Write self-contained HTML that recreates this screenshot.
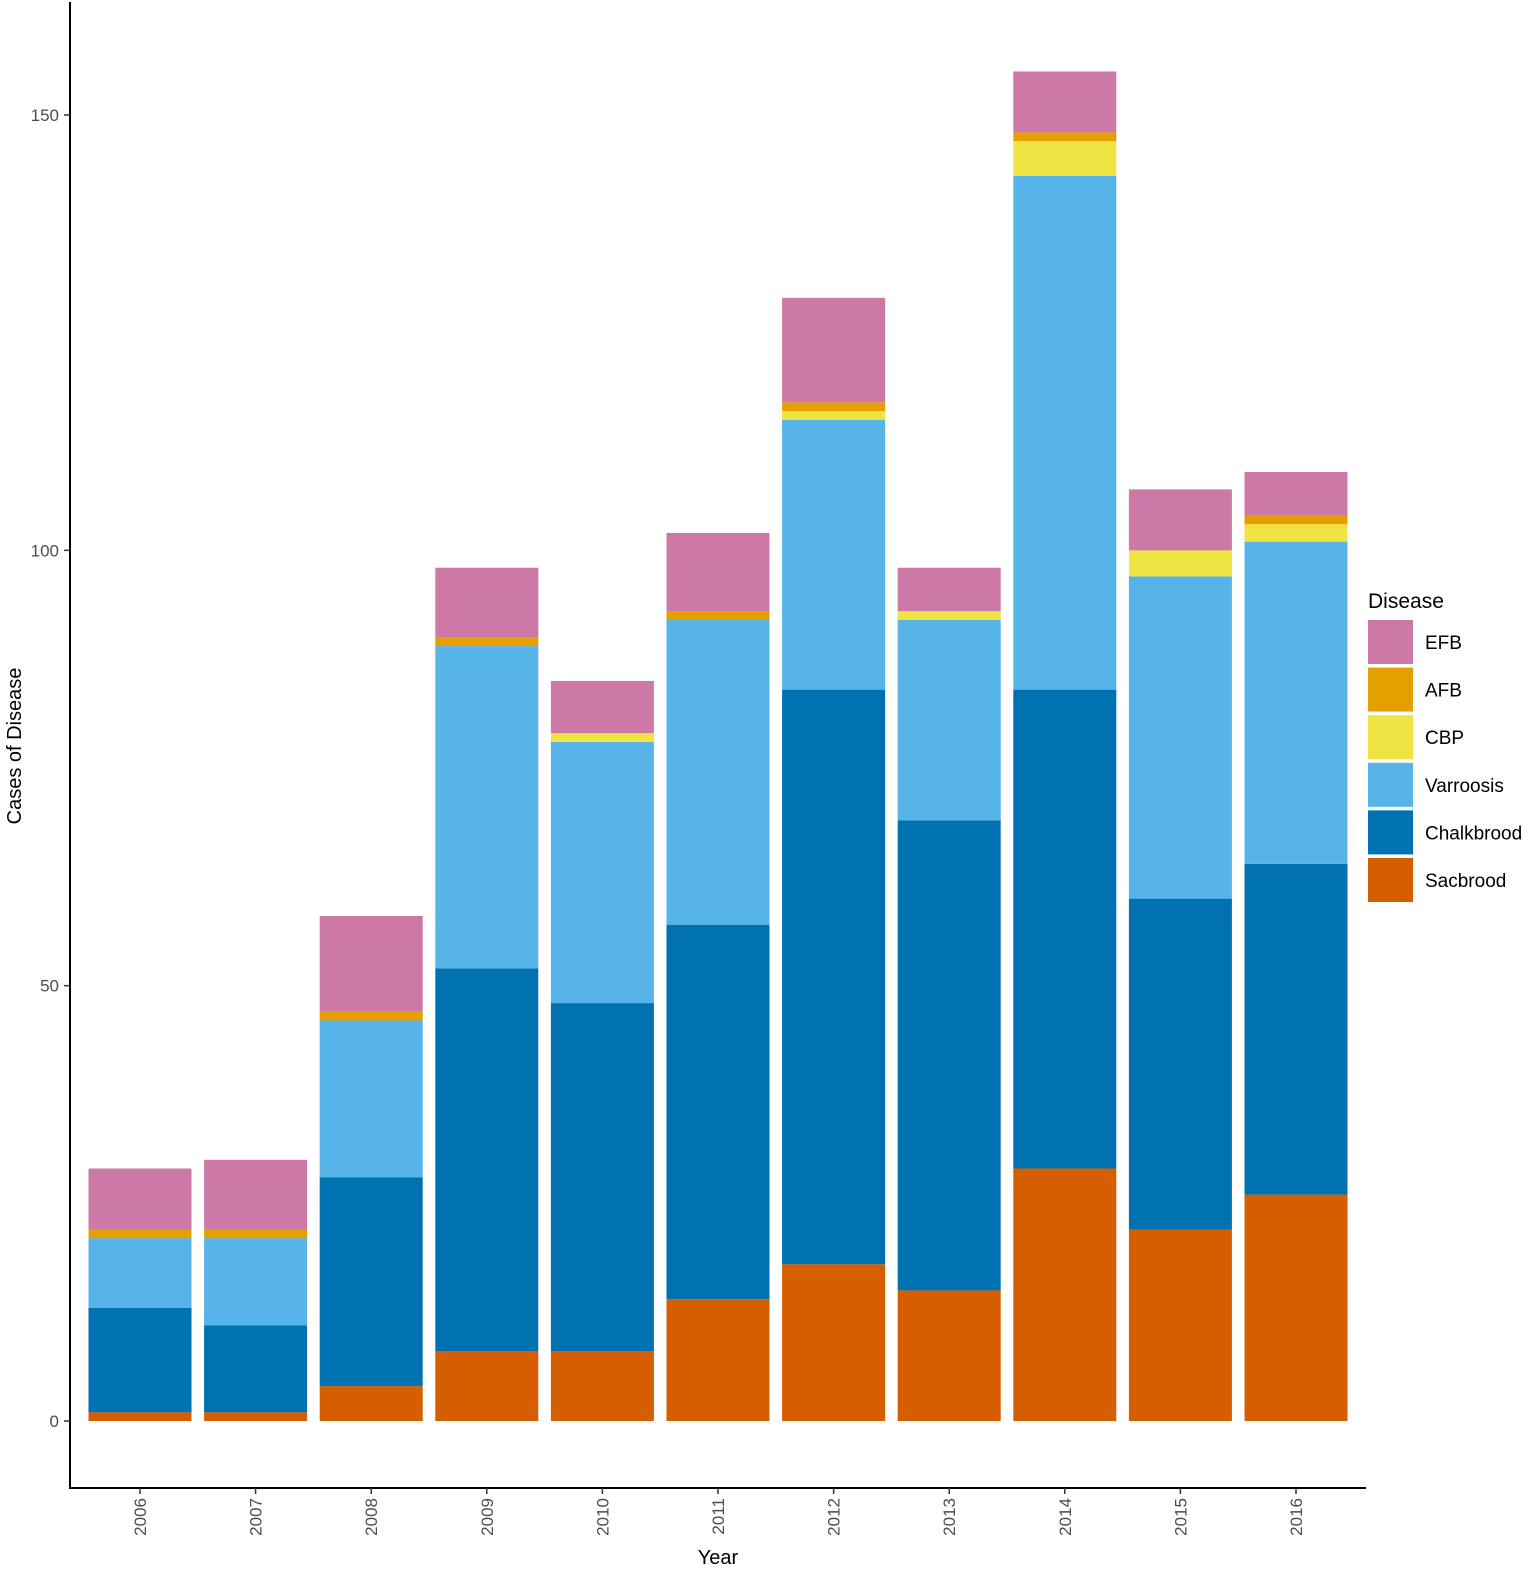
<!DOCTYPE html>
<html><head><meta charset="utf-8"><style>
html,body{margin:0;padding:0;background:#fff}
svg{display:block}
text{font-family:"Liberation Sans",sans-serif}
</style></head><body>
<svg id="chart" width="1534" height="1578" viewBox="0 0 1534 1578" xmlns="http://www.w3.org/2000/svg"></svg>
<script>
const years = ["2006","2007","2008","2009","2010","2011","2012","2013","2014","2015","2016"];
const sacbrood   = [1,1,4,8,8,14,18,15,29,22,26];
const chalkbrood = [12,10,24,44,40,43,66,54,55,38,38];
const varroosis  = [8,10,18,37,30,35,31,23,59,37,37];
const cbp        = [0,0,0,0,1,0,1,1,4,3,2];
const afb        = [1,1,1,1,0,1,1,0,1,0,1];
const efb        = [7,8,11,8,6,9,12,5,7,7,5];
const yTicks = [0,50,100,150];
const seriesNames = ["Sacbrood","Chalkbrood","Varroosis","CBP","AFB","EFB"];
const seriesData = [sacbrood,chalkbrood,varroosis,cbp,afb,efb];
const colors = ["#D55E00","#0072B2","#56B4E9","#F0E442","#E69F00","#CC79A7"];

const NS="http://www.w3.org/2000/svg";
const svg=document.getElementById('chart');
function el(tag,attrs,parent){const e=document.createElementNS(NS,tag);for(const k in attrs)e.setAttribute(k,attrs[k]);(parent||svg).appendChild(e);return e;}
const y0=1421, pxPerUnit=(1421-115)/150;
function yScale(v){return y0-v*pxPerUnit;}
const x0=140, step=115.6, bw=103;
function xScale(i){return x0+i*step;}

years.forEach((yr,i)=>{
  let cum=0;
  seriesData.forEach((arr,s)=>{
    const v=arr[i]; if(v<=0) return;
    const r=el('rect',{x:xScale(i)-bw/2,y:yScale(cum+v),width:bw,height:v*pxPerUnit,fill:colors[s]});
    
    
    cum+=v;
  });
});

const ya=el('line',{x1:70,y1:2,x2:70,y2:1489,stroke:'#000','stroke-width':2});


const xa=el('line',{x1:69,y1:1488,x2:1366,y2:1488,stroke:'#000','stroke-width':2});



yTicks.forEach(t=>{
  const yy=yScale(t);
  const tk=el('line',{x1:64,y1:yy,x2:70,y2:yy,stroke:'#333','stroke-width':1.5});
  
  
  const lb=el('text',{x:59,y:yy+6,'text-anchor':'end','font-size':17,fill:'#4d4d4d'});
  lb.textContent=t;
  
  
});
years.forEach((yr,i)=>{
  const xx=xScale(i);
  const tk=el('line',{x1:xx,y1:1488,x2:xx,y2:1494,stroke:'#333','stroke-width':1.5});
  
  
  const lb=el('text',{x:0,y:0,'text-anchor':'end','font-size':17,fill:'#4d4d4d',transform:`translate(${xx+6},1498) rotate(-90)`});
  lb.textContent=yr;
  
  
});
const xt=el('text',{x:718,y:1564,'text-anchor':'middle','font-size':20,fill:'#000'});
xt.textContent='Year';


const yt=el('text',{x:0,y:0,'text-anchor':'middle','font-size':20,fill:'#000',transform:'translate(21,746) rotate(-90)'});
yt.textContent='Cases of Disease';



const lt=el('text',{x:1368,y:608,'font-size':21,fill:'#000'});
lt.textContent='Disease';


const legendOrder=[5,4,3,2,1,0];
legendOrder.forEach((s,k)=>{
  const yy=620+k*47.6;
  const r=el('rect',{x:1368,y:yy,width:45,height:44,fill:colors[s]});
  
  
  const t=el('text',{x:1425,y:yy+29,'font-size':19,fill:'#000'});
  t.textContent=seriesNames[s];
  
  
});
</script>
</body></html>
